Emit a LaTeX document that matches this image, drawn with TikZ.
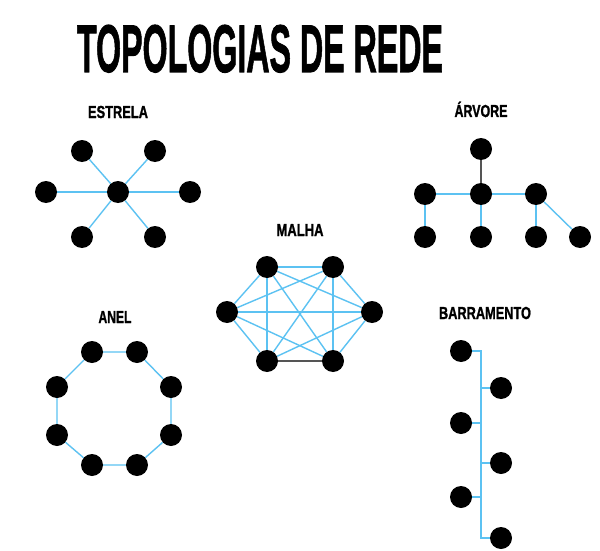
\documentclass[tikz,border=0pt]{standalone}
\usepackage{fontspec}
\setmainfont{Liberation Sans}
\newfontfamily\heavyfont{Liberation Sans Bold}[FakeBold=1.5]
\usetikzlibrary{backgrounds}
\definecolor{linkblue}{HTML}{5CC2F2}
\definecolor{linkgray}{HTML}{555555}
\newsavebox\fitbx
\newdimen\fitdim
\newcommand\fitw[2]{\sbox\fitbx{#2}\fitdim=\wd\fitbx\pgfmathsetmacro\fitsx{#1/\fitdim}\scalebox{\fitsx}[1]{\usebox\fitbx}}
\begin{document}
\begin{tikzpicture}[x=1pt,y=-1pt,
 dot/.style={circle,fill=black,inner sep=0pt,minimum size=22pt},
 blink/.style={draw=linkblue,line width=1.4pt},
 glink/.style={draw=linkgray,line width=1.4pt},
 ttl/.style={anchor=base,inner sep=0pt,font=\fontsize{67.5}{68}\heavyfont},
 lbl/.style={anchor=base,inner sep=0pt,font=\fontsize{17.4}{18}\heavyfont}]
\useasboundingbox (0,0) rectangle (600,551);
% title
\node[ttl] (title) at (260,72) {\fitw{366}{TOPOLOGIAS DE REDE}};
% star
\node[lbl] (lstar) at (118,118) {\fitw{60}{ESTRELA}};
\node[dot] (sc) at (118,192) {};
\node[dot] (s1) at (82,151) {};
\node[dot] (s2) at (155,151) {};
\node[dot] (s3) at (46,192) {};
\node[dot] (s4) at (190,192) {};
\node[dot] (s5) at (82,237) {};
\node[dot] (s6) at (155,237) {};
% tree
\node[lbl] (ltree) at (481,117) {\fitw{53}{ÁRVORE}};
\node[dot] (t0) at (481,149) {};
\node[dot] (t1) at (425,194) {};
\node[dot] (t2) at (481,194) {};
\node[dot] (t3) at (536,194) {};
\node[dot] (t4) at (425,237) {};
\node[dot] (t5) at (481,237) {};
\node[dot] (t6) at (536,237) {};
\node[dot] (t7) at (580,237) {};
% mesh
\node[lbl] (lmesh) at (300,236) {\fitw{47}{MALHA}};
\node[dot] (m1) at (267,267) {};
\node[dot] (m2) at (333,267) {};
\node[dot] (m3) at (372,312) {};
\node[dot] (m4) at (333,361) {};
\node[dot] (m5) at (267,361) {};
\node[dot] (m6) at (227,312) {};
% ring
\node[lbl] (lring) at (115,323) {\fitw{33}{ANEL}};
\node[dot] (r1) at (92,352) {};
\node[dot] (r2) at (137,352) {};
\node[dot] (r3) at (171,387) {};
\node[dot] (r4) at (171,435) {};
\node[dot] (r5) at (137,465) {};
\node[dot] (r6) at (92,465) {};
\node[dot] (r7) at (57,435) {};
\node[dot] (r8) at (57,387) {};
% bus
\node[lbl] (lbus) at (485,319) {\fitw{92}{BARRAMENTO}};
\node[dot] (b1) at (461,351) {};
\node[dot] (b2) at (501,388) {};
\node[dot] (b3) at (461,423) {};
\node[dot] (b4) at (501,463) {};
\node[dot] (b5) at (461,497) {};
\node[dot] (b6) at (501,538) {};
\coordinate (btop) at (481,351);
\coordinate (bbot) at (481,538);
\begin{scope}[on background layer]
\fill[white] (0,0) rectangle (600,551);
\foreach \n in {s1,s2,s3,s4,s5,s6} \draw[blink] (sc) -- (\n);
\draw[glink] (t0) -- (t2);
\draw[blink] (t1) -- (t2) -- (t3);
\draw[blink] (t1) -- (t4);
\draw[blink] (t2) -- (t5);
\draw[blink] (t3) -- (t6);
\draw[blink] (t3) -- (t7);
\foreach \a/\b in {m1/m2,m1/m3,m1/m4,m1/m5,m1/m6,m2/m3,m2/m4,m2/m5,m2/m6,m3/m4,m3/m5,m3/m6,m4/m6,m5/m6}
  \draw[blink] (\a) -- (\b);
\draw[glink] (m4) -- (m5);
\draw[blink] (r1) -- (r2) -- (r3) -- (r4) -- (r5) -- (r6) -- (r7) -- (r8) -- (r1);
\draw[blink] (b1) -- (btop) -- (bbot) -- (b6);
\draw[blink] (b2) -- (b2 -| btop);
\draw[blink] (b3) -- (b3 -| btop);
\draw[blink] (b4) -- (b4 -| btop);
\draw[blink] (b5) -- (b5 -| btop);
\end{scope}
\end{tikzpicture}
\end{document}
